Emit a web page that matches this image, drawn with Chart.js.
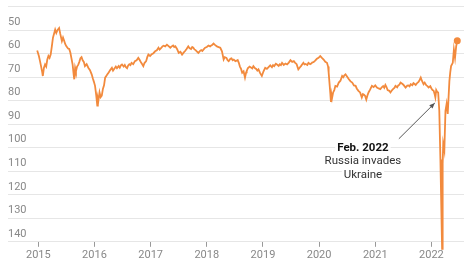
<!DOCTYPE html>
<html>
<head>
<meta charset="utf-8">
<script src="https://cdn.jsdelivr.net/npm/chart.js@4"></script>
<style>
  html, body { margin: 0; padding: 0; background: #fff; }
  #wrap { width: 474px; height: 266px; }
</style>
</head>
<body>
<div id="wrap"><canvas id="rubleChart"></canvas></div>
<script>
// dates as decimal years, rubles per dollar
const dates = [
  2014.98, 2015.01, 2015.03, 2015.05, 2015.07, 2015.08, 2015.10, 2015.12, 2015.14, 2015.16,
  2015.18, 2015.20, 2015.22, 2015.24, 2015.26, 2015.28, 2015.30, 2015.32, 2015.34, 2015.37,
  2015.39, 2015.42, 2015.44, 2015.46, 2015.48, 2015.50, 2015.53, 2015.55, 2015.57, 2015.59,
  2015.61, 2015.63, 2015.64, 2015.655, 2015.67, 2015.69, 2015.71, 2015.73, 2015.75, 2015.77,
  2015.79, 2015.81, 2015.83, 2015.86, 2015.89, 2015.92, 2015.95, 2015.97, 2015.99, 2016.01,
  2016.03, 2016.05, 2016.06, 2016.07, 2016.09, 2016.11, 2016.13, 2016.15, 2016.17, 2016.19,
  2016.21, 2016.23, 2016.25, 2016.28, 2016.31, 2016.33, 2016.35, 2016.38, 2016.40, 2016.43,
  2016.45, 2016.47, 2016.49, 2016.52, 2016.54, 2016.56, 2016.58, 2016.60, 2016.62, 2016.64,
  2016.66, 2016.69, 2016.72, 2016.75, 2016.78, 2016.80, 2016.83, 2016.85, 2016.87, 2016.89,
  2016.92, 2016.94, 2016.96, 2016.99, 2017.02, 2017.05, 2017.08, 2017.11, 2017.14, 2017.16,
  2017.18, 2017.21, 2017.23, 2017.26, 2017.29, 2017.32, 2017.35, 2017.37, 2017.40, 2017.42,
  2017.44, 2017.47, 2017.50, 2017.53, 2017.56, 2017.59, 2017.61, 2017.64, 2017.67, 2017.69,
  2017.72, 2017.74, 2017.76, 2017.78, 2017.80, 2017.83, 2017.85, 2017.88, 2017.90, 2017.92,
  2017.94, 2017.97, 2018.00, 2018.03, 2018.06, 2018.08, 2018.10, 2018.12, 2018.15, 2018.18,
  2018.21, 2018.24, 2018.27, 2018.30, 2018.32, 2018.35, 2018.37, 2018.39, 2018.42, 2018.44,
  2018.46, 2018.48, 2018.51, 2018.53, 2018.55, 2018.57, 2018.59, 2018.61, 2018.63, 2018.655,
  2018.68, 2018.70, 2018.71, 2018.73, 2018.74, 2018.76, 2018.78, 2018.81, 2018.83, 2018.86,
  2018.88, 2018.90, 2018.92, 2018.95, 2018.98, 2019.01, 2019.04, 2019.07, 2019.10, 2019.13,
  2019.16, 2019.18, 2019.20, 2019.23, 2019.25, 2019.28, 2019.30, 2019.32, 2019.34, 2019.37,
  2019.40, 2019.43, 2019.46, 2019.49, 2019.52, 2019.55, 2019.57, 2019.60, 2019.62, 2019.63,
  2019.66, 2019.68, 2019.70, 2019.72, 2019.74, 2019.76, 2019.79, 2019.81, 2019.84, 2019.86,
  2019.88, 2019.90, 2019.93, 2019.96, 2019.99, 2020.02, 2020.05, 2020.08, 2020.11, 2020.14,
  2020.16, 2020.17, 2020.19, 2020.20, 2020.21, 2020.22, 2020.23, 2020.25, 2020.27, 2020.29,
  2020.32, 2020.35, 2020.38, 2020.41, 2020.43, 2020.45, 2020.47, 2020.50, 2020.53, 2020.56,
  2020.59, 2020.62, 2020.65, 2020.67, 2020.70, 2020.73, 2020.76, 2020.78, 2020.80, 2020.82,
  2020.84, 2020.86, 2020.88, 2020.91, 2020.94, 2020.97, 2021.00, 2021.03, 2021.06, 2021.09,
  2021.12, 2021.14, 2021.16, 2021.18, 2021.20, 2021.22, 2021.25, 2021.27, 2021.30, 2021.32,
  2021.34, 2021.36, 2021.39, 2021.41, 2021.43, 2021.45, 2021.48, 2021.50, 2021.52, 2021.54,
  2021.57, 2021.59, 2021.61, 2021.63, 2021.66, 2021.68, 2021.70, 2021.72, 2021.75, 2021.77,
  2021.79, 2021.81, 2021.83, 2021.86, 2021.88, 2021.91, 2021.93, 2021.95, 2021.98, 2022.00,
  2022.02, 2022.04, 2022.055, 2022.07, 2022.085, 2022.10, 2022.12, 2022.14, 2022.16, 2022.17,
  2022.19, 2022.20, 2022.21, 2022.23, 2022.25, 2022.27, 2022.29, 2022.32, 2022.335, 2022.35,
  2022.38, 2022.40, 2022.42, 2022.44, 2022.46
];
const rates = [
  58.7, 61.0, 63.2, 65.5, 68.0, 69.5, 66.0, 64.6, 65.5, 62.5,
  61.0, 61.8, 60.4, 57.0, 53.3, 51.5, 49.8, 51.2, 50.0, 49.1,
  51.5, 54.7, 53.2, 54.5, 56.0, 56.9, 57.8, 58.0, 59.5, 62.0,
  64.5, 69.0, 70.9, 66.0, 67.5, 65.5, 64.8, 63.5, 62.0, 61.5,
  62.8, 63.5, 65.3, 64.5, 66.0, 67.0, 68.8, 70.5, 72.0, 73.7,
  77.5, 82.1, 79.0, 80.0, 76.5, 78.5, 77.9, 75.0, 73.5, 70.2,
  69.5, 68.8, 68.1, 67.0, 66.0, 67.2, 66.5, 65.5, 66.2, 65.3,
  66.0, 65.0, 64.6, 65.5, 64.8, 65.8, 66.2, 65.0, 64.5, 64.9,
  63.9, 64.5, 63.2, 62.8, 61.8, 62.5, 63.8, 64.5, 65.3, 64.0,
  63.2, 61.5, 60.4, 61.0, 60.2, 59.8, 59.0, 58.6, 57.5, 58.3,
  57.8, 56.9, 56.6, 56.9, 56.2, 56.8, 57.5, 57.0, 56.5, 57.2,
  56.9, 58.0, 59.7, 59.2, 60.4, 59.5, 59.0, 58.0, 56.9, 57.6,
  58.0, 57.2, 57.5, 58.2, 58.5, 59.2, 59.7, 58.8, 58.5, 58.9,
  58.3, 57.5, 57.2, 56.6, 56.9, 56.5, 56.2, 55.7, 56.4, 56.9,
  57.2, 57.5, 59.0, 62.5, 61.5, 61.8, 62.8, 63.2, 62.2, 62.0,
  62.8, 62.5, 63.2, 63.0, 62.7, 63.9, 65.5, 66.5, 68.1, 67.5,
  70.2, 68.0, 67.5, 66.2, 66.0, 65.5, 65.8, 66.3, 65.3, 66.2,
  66.5, 67.2, 66.7, 68.3, 69.5, 67.5, 66.0, 66.5, 65.7, 65.0,
  65.8, 64.9, 65.3, 64.3, 64.6, 65.2, 64.5, 64.9, 63.9, 64.8,
  64.2, 64.6, 63.8, 62.8, 63.5, 63.2, 63.8, 64.5, 66.0, 66.7,
  65.8, 65.2, 64.5, 63.9, 64.6, 64.4, 64.8, 63.9, 64.5, 64.2,
  63.7, 63.6, 63.0, 62.2, 61.8, 61.0, 61.8, 62.5, 63.5, 63.9,
  65.5, 68.1, 74.0, 77.0, 80.5, 77.5, 79.0, 76.5, 75.5, 73.7,
  74.0, 72.3, 71.5, 69.5, 70.0, 69.2, 68.8, 69.8, 70.9, 71.8,
  72.3, 73.5, 73.7, 74.8, 75.8, 76.5, 78.6, 77.2, 77.5, 78.0,
  79.5, 77.8, 76.5, 75.2, 73.7, 74.2, 73.5, 74.4, 74.8, 75.1,
  74.2, 73.8, 74.5, 73.3, 74.2, 75.5, 75.8, 76.5, 75.5, 75.0,
  74.6, 73.7, 74.3, 73.5, 73.2, 72.3, 72.8, 73.2, 73.8, 74.4,
  73.6, 73.5, 73.9, 73.0, 73.4, 72.5, 72.9, 73.3, 72.4, 72.0,
  71.2, 70.2, 71.5, 73.0, 72.3, 73.5, 73.8, 74.4, 73.8, 74.8,
  75.5, 75.8, 77.0, 78.6, 75.5, 76.2, 76.5, 84.3, 105.0, 118.0,
  143.0, 106.7, 98.3, 101.0, 84.3, 81.4, 85.6, 71.6, 68.0, 65.3,
  63.9, 58.3, 61.8, 57.0, 54.5
];
const xYears = [2015, 2016, 2017, 2018, 2019, 2020, 2021, 2022];
const yTicks = [40, 50, 60, 70, 80, 90, 100, 110, 120, 130, 140];

const noteLines = ['Feb. 2022', 'Russia invades', 'Ukraine'];
// arrow tail/tip and text anchor in data units
const note = { tail: [2021.42, 96.2], tip: [2022.06, 81], text: [2020.78, 100] };

const FONT = 'Roboto, "Noto Sans", sans-serif';
const ORANGE = '#f28a3d';

const annotationPlugin = {
  id: 'invasionNote',
  afterDatasetsDraw(chart) {
    const { ctx, scales: { x, y } } = chart;
    const tx = x.getPixelForValue(note.tail[0]), ty = y.getPixelForValue(note.tail[1]);
    const hx = x.getPixelForValue(note.tip[0]), hy = y.getPixelForValue(note.tip[1]);
    ctx.save();
    ctx.strokeStyle = '#555';
    ctx.fillStyle = '#555';
    ctx.lineWidth = 1;
    ctx.beginPath();
    ctx.moveTo(tx, ty);
    ctx.lineTo(hx, hy);
    ctx.stroke();
    const ang = Math.atan2(hy - ty, hx - tx);
    ctx.beginPath();
    ctx.moveTo(hx, hy);
    ctx.lineTo(hx - 6 * Math.cos(ang - 0.4), hy - 6 * Math.sin(ang - 0.4));
    ctx.lineTo(hx - 6 * Math.cos(ang + 0.4), hy - 6 * Math.sin(ang + 0.4));
    ctx.closePath();
    ctx.fill();

    const cx = x.getPixelForValue(note.text[0]);
    const cy = y.getPixelForValue(note.text[1]);
    ctx.textAlign = 'center';
    ctx.textBaseline = 'middle';
    noteLines.forEach((line, i) => {
      ctx.font = (i === 0 ? 'bold ' : '') + '11.5px ' + FONT;
      const w = ctx.measureText(line).width;
      const ly = cy + i * 13.5;
      ctx.fillStyle = '#fff';
      ctx.fillRect(cx - w / 2 - 2, ly - 7, w + 4, 14);
      ctx.fillStyle = i === 0 ? '#121212' : '#333';
      ctx.fillText(line, cx, ly);
    });
    ctx.restore();
  }
};

const ctx = document.getElementById('rubleChart').getContext('2d');
const chart = new Chart(ctx, {
  type: 'line',
  data: {
    datasets: [{
      data: dates.map((d, i) => ({ x: d, y: rates[i] })),
      borderColor: ORANGE,
      backgroundColor: ORANGE,
      borderWidth: 1.8,
      tension: 0,
      clip: false,
      pointRadius: c => (c.dataIndex === rates.length - 1 ? 3.5 : 0),
      pointBackgroundColor: ORANGE,
      pointBorderWidth: 0
    }]
  },
  plugins: [annotationPlugin],
  options: {
    responsive: true,
    maintainAspectRatio: false,
    animation: false,
    layout: { padding: { left: 8, right: 10, top: 2, bottom: 2 } },
    plugins: { legend: { display: false }, tooltip: { enabled: false } },
    scales: {
      x: {
        type: 'linear',
        min: 2014.46,
        max: 2022.58,
        afterBuildTicks: s => { s.ticks = xYears.map(v => ({ value: v })); },
        grid: { drawOnChartArea: false, drawTicks: true, tickLength: 5, tickColor: '#999' },
        border: { display: false },
        ticks: {
          color: '#888',
          font: { family: FONT, size: 11 },
          padding: 2,
          maxRotation: 0,
          autoSkip: false,
          callback: v => String(v)
        }
      },
      y: {
        min: 40,
        max: 140,
        reverse: true,
        afterBuildTicks: s => { s.ticks = yTicks.map(v => ({ value: v })); },
        grid: { color: '#e6e6e6', drawTicks: false },
        border: { display: false },
        ticks: {
          mirror: true,
          padding: 0,
          labelOffset: -8,
          color: '#888',
          font: { family: FONT, size: 11 },
          callback: v => (v === 40 ? '' : String(v))
        }
      }
    }
  }
});
</script>
</body>
</html>
